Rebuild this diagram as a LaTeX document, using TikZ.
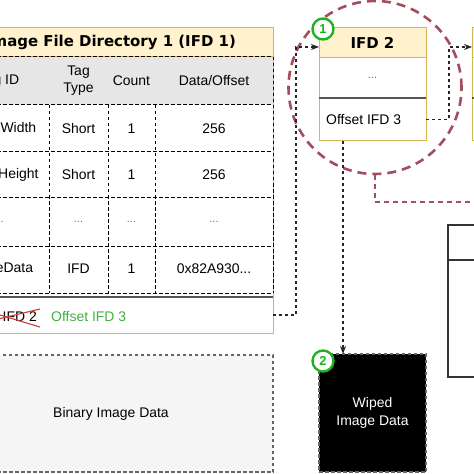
\documentclass[tikz,border=0pt]{standalone}
\usepackage{fontspec}
\setmainfont{Liberation Sans}
\newfontfamily\vbold{DejaVu Sans}
\usetikzlibrary{arrows.meta,calc}
\definecolor{hfill}{HTML}{FFF2CC}
\definecolor{hborder}{HTML}{D6B656}
\definecolor{thfill}{HTML}{E6E6E6}
\definecolor{binfill}{HTML}{F5F5F5}
\definecolor{bingray}{HTML}{666666}
\definecolor{cred}{HTML}{A34E5C}
\definecolor{gbadge}{HTML}{1FB31F}
\definecolor{gtext}{HTML}{3DB33D}
\definecolor{sepgray}{HTML}{555555}
\definecolor{xred}{HTML}{D23A3A}
\tikzset{
  box/.style={inner sep=0pt, outer sep=0pt, anchor=north west},
  hdr/.style={box, draw=hborder, fill=hfill, line width=1bp, font=\vbold\bfseries\fontsize{15}{18}\selectfont},
  grid/.style={draw=black, line width=1bp, dash pattern=on 3.5bp off 2.5bp},
  sepline/.style={draw=sepgray, line width=1.6bp},
  dots/.style={text=black!55, font=\fontsize{11}{13}\selectfont},
  conn/.style={draw=black!85, line width=1.3bp, dash pattern=on 3bp off 3bp},
  tip/.style={-{Stealth[length=8bp,width=6bp]}},
  badge/.style={circle, draw=gbadge, fill=white, line width=2.4bp, minimum size=21bp, inner sep=0pt, text=gbadge, font=\bfseries\fontsize{13}{14}\selectfont},
  txt/.style={inner sep=0pt, align=center},
}
\begin{document}
\begin{tikzpicture}[x=1bp, y=-1bp, font=\fontsize{14}{17}\selectfont]
\useasboundingbox (0,0) rectangle (474,474);
\clip (0,0) rectangle (474,474);
\fill[white] (0,0) rectangle (474,474);

% ---------- IFD 1 ----------
\node[box, draw=hborder, fill=white, line width=1bp, minimum width=324bp, minimum height=305bp] (ifd1) at (-51,28) {};
\node[hdr, minimum width=324bp, minimum height=29bp] (ifd1head) at (-51,28) {Image File Directory 1 (IFD 1)};
\node[box, fill=thfill, minimum width=324bp, minimum height=48bp] (thead) at (-51,57) {};
% grid
\draw[grid] (-51,57) -- (273,57);
\draw[grid] (-51,105) -- (273,105);
\draw[grid] (-51,152) -- (273,152);
\draw[grid] (-51,198) -- (273,198);
\draw[grid] (-51,246) -- (273,246);
\draw[grid] (-51,293) -- (273,293);
\draw[grid] (273,57) -- (273,293);
\draw[grid] (49,105) -- (49,293);
\draw[grid] (108,105) -- (108,293);
\draw[grid] (155,105) -- (155,293);
% header row texts
\node[txt] (h1) at (-1,81) {Tag ID};
\node[txt] (h2) at (78.5,81) {Tag\\Type};
\node[txt] (h3) at (131.5,81) {Count};
\node[txt] (h4) at (214,81) {Data/Offset};
% row 1
\node[txt] (r1a) at (-1,128.5) {ImageWidth};
\node[txt] (r1b) at (78.5,128.5) {Short};
\node[txt] (r1c) at (131.5,128.5) {1};
\node[txt] (r1d) at (214,128.5) {256};
% row 2
\node[txt] (r2a) at (-1,175) {ImageHeight};
\node[txt] (r2b) at (78.5,175) {Short};
\node[txt] (r2c) at (131.5,175) {1};
\node[txt] (r2d) at (214,175) {256};
% row 3
\node[txt, dots] (r3a) at (-1,222) {...};
\node[txt, dots] (r3b) at (78.5,222) {...};
\node[txt, dots] (r3c) at (131.5,222) {...};
\node[txt, dots] (r3d) at (214,222) {...};
% row 4
\node[txt] (r4a) at (-1,269) {ImageData};
\node[txt] (r4b) at (78.5,269) {IFD};
\node[txt] (r4c) at (131.5,269) {1};
\node[txt] (r4d) at (214,269) {0x82A930...};
% lower row
\node[box, draw=hborder, line width=1bp, minimum width=324bp, minimum height=36bp] (ifd1low) at (-51,297) {};
\draw[sepline] (ifd1low.north west) -- (ifd1low.north east);
\node[txt, anchor=east] (oldoff) at (37,317) {Offset IFD 2};
\node[txt, anchor=west, text=gtext] (newoff) at (51,317) {Offset IFD 3};
\draw[xred, line width=1.1bp] (-10,321) -- (40,309);
\draw[xred, line width=1.1bp] (-10,312) -- (40,327);

% ---------- Binary image data ----------
\node[box, draw=bingray, fill=binfill, line width=1.2bp, dash pattern=on 3.5bp off 2.5bp, minimum width=324bp, minimum height=117bp] (bin) at (-51,355) {Binary Image Data};

% ---------- IFD 2 ----------
\node[box, draw=hborder, fill=white, line width=1bp, minimum width=107bp, minimum height=113bp] (ifd2) at (319,28) {};
\node[hdr, minimum width=107bp, minimum height=30bp] (ifd2head) at (319,28) {IFD 2};
\node[box, minimum width=107bp, minimum height=40bp, dots] (ifd2mid) at (319,58) {...};
\node[box, minimum width=107bp, minimum height=43bp] (ifd2off) at (319,98) {};
\draw[sepline] (ifd2off.north west) -- (ifd2off.north east);
\node[txt, anchor=west] (ifd2offt) at ([xshift=7bp]ifd2off.west) {Offset IFD 3};

% ---------- IFD 3 (partial) ----------
\node[box, draw=hborder, fill=white, line width=1bp, minimum width=107bp, minimum height=113bp] (ifd3) at (472,28) {};
\node[hdr, minimum width=107bp, minimum height=30bp] (ifd3head) at (472,28) {};
\node[box, minimum width=107bp, minimum height=43bp] (ifd3off) at (472,98) {};
\draw[sepline] (ifd3off.north west) -- (ifd3off.north east);

% ---------- right lower box ----------
\node[box, draw=black!80, line width=1.2bp, minimum width=132bp, minimum height=152bp] (rbox) at (448,225) {};
\draw[black!80, line width=1.2bp] ([yshift=-35bp]rbox.north west) -- ([yshift=-35bp]rbox.north east);

% ---------- wiped image data ----------
\node[box, draw=bingray, fill=black, line width=1.2bp, dash pattern=on 3.5bp off 2.5bp, minimum width=107bp, minimum height=118bp, text=white, align=center, font=\fontsize{14}{17.5}\selectfont] (wiped) at (319,354) {Wiped\\Image Data};

% ---------- zoom circle ----------
\node[circle, draw=cred, line width=2.6bp, dash pattern=on 9bp off 6bp, minimum size=173bp, inner sep=0pt] (zoomc) at (375,87.5) {};
\coordinate (offright) at (480,202);
\draw[cred, line width=1.5bp, dash pattern=on 5bp off 4bp] (zoomc.south) |- (offright);

% ---------- connectors ----------
\draw[conn, tip] (ifd1low.east) -- ++(23,0) |- ([yshift=-4bp]ifd2head.west);
\draw[conn, tip] (ifd2off.east) -- ++(23,0) |- ([yshift=-4bp]ifd3head.west);
\draw[conn, tip] ([xshift=-29.5bp]ifd2.south) -- ([xshift=-29.5bp]wiped.north);

% ---------- badges ----------
\node[badge] (b1) at (323,29) {1};
\node[badge] (b2) at (323,361) {2};
\end{tikzpicture}
\end{document}
